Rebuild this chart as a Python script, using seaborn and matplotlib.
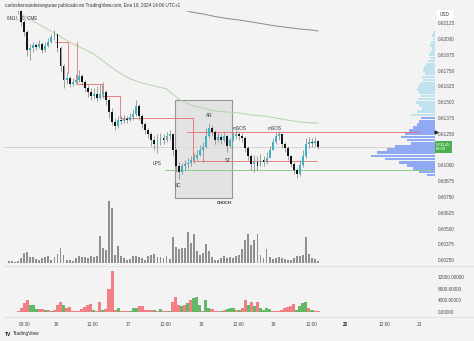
import numpy as np
import pandas as pd
import matplotlib
matplotlib.use("Agg")
import matplotlib.pyplot as plt
import matplotlib.transforms as mtransforms
from matplotlib.patches import Rectangle
from matplotlib.ticker import FormatStrFormatter
import seaborn as sns

sns.set_theme(style="white")
plt.rcParams['font.family'] = ['Liberation Sans', 'DejaVu Sans']

# ---- 6N1! hourly bars -------------------------------------------------------
first_open = 0.62300
closes = [0.62290, 0.62262, 0.62248, 0.62229, 0.62134, 0.62055, 0.61913, 0.61925, 0.61953, 0.61937,
          0.61961, 0.61913, 0.61945, 0.61976, 0.62016, 0.62040, 0.61929, 0.61787, 0.61676, 0.61691,
          0.61644, 0.61660, 0.61676, 0.61707, 0.61660, 0.61612, 0.61581, 0.61549, 0.61565, 0.61533,
          0.61565, 0.61581, 0.61518, 0.61423, 0.61343, 0.61312, 0.61359, 0.61351, 0.61367, 0.61359,
          0.61383, 0.61407, 0.61470, 0.61391, 0.61328, 0.61280, 0.61249, 0.61201, 0.61169, 0.61201,
          0.61217, 0.61201, 0.61233, 0.61249, 0.61122, 0.60995, 0.60948, 0.60995, 0.61011, 0.61019,
          0.61043, 0.61059, 0.61082, 0.61122, 0.61146, 0.61233, 0.61296, 0.61264, 0.61201, 0.61225,
          0.61201, 0.61233, 0.61154, 0.61201, 0.61233, 0.61249, 0.61233, 0.61217, 0.61138, 0.61075,
          0.61011, 0.61027, 0.60995, 0.61043, 0.61027, 0.61059, 0.61122, 0.61185, 0.61233, 0.61249,
          0.61169, 0.61138, 0.61075, 0.61011, 0.60964, 0.60932, 0.61003, 0.61075, 0.61169, 0.61185,
          0.61177, 0.61193, 0.61145]
highs = [0.62305, 0.62290, 0.62275, 0.62269, 0.62245, 0.62150, 0.62071, 0.61961, 0.61976, 0.61968,
         0.61992, 0.61976, 0.61976, 0.62008, 0.62040, 0.62071, 0.62024, 0.61945, 0.61802, 0.61739,
         0.61707, 0.61691, 0.61723, 0.61755, 0.61723, 0.61676, 0.61636, 0.61612, 0.61612, 0.61628,
         0.61644, 0.61660, 0.61597, 0.61533, 0.61454, 0.61375, 0.61391, 0.61391, 0.61399, 0.61391,
         0.61415, 0.61446, 0.61518, 0.61486, 0.61407, 0.61343, 0.61296, 0.61264, 0.61233, 0.61249,
         0.61256, 0.61249, 0.61264, 0.61280, 0.61249, 0.61138, 0.61027, 0.61019, 0.61043, 0.61059,
         0.61075, 0.61098, 0.61122, 0.61162, 0.61185, 0.61296, 0.61335, 0.61320, 0.61280, 0.61256,
         0.61249, 0.61264, 0.61241, 0.61217, 0.61264, 0.61280, 0.61264, 0.61256, 0.61233, 0.61154,
         0.61090, 0.61082, 0.61075, 0.61090, 0.61075, 0.61106, 0.61154, 0.61217, 0.61264, 0.61272,
         0.61249, 0.61185, 0.61154, 0.61082, 0.61027, 0.60980, 0.61043, 0.61122, 0.61217, 0.61225,
         0.61217, 0.61225, 0.61201]
lows = [0.62270, 0.62250, 0.62230, 0.62198, 0.62103, 0.62024, 0.61866, 0.61834, 0.61897, 0.61913,
        0.61929, 0.61889, 0.61897, 0.61937, 0.61968, 0.61992, 0.61897, 0.61739, 0.61612, 0.61644,
        0.61620, 0.61628, 0.61644, 0.61660, 0.61636, 0.61581, 0.61541, 0.61518, 0.61525, 0.61510,
        0.61525, 0.61533, 0.61478, 0.61375, 0.61320, 0.61280, 0.61296, 0.61328, 0.61335, 0.61335,
        0.61351, 0.61359, 0.61391, 0.61359, 0.61296, 0.61249, 0.61217, 0.61154, 0.61122, 0.61098,
        0.61162, 0.61169, 0.61185, 0.61201, 0.61075, 0.60948, 0.60892, 0.60932, 0.60964, 0.60980,
        0.60995, 0.61019, 0.61043, 0.61075, 0.61027, 0.61138, 0.61217, 0.61233, 0.61169, 0.61185,
        0.61169, 0.61185, 0.61106, 0.61138, 0.61193, 0.61209, 0.61201, 0.61185, 0.61106, 0.61043,
        0.60964, 0.60948, 0.60964, 0.60995, 0.60995, 0.61011, 0.61075, 0.61122, 0.61169, 0.61201,
        0.61138, 0.61106, 0.61043, 0.60987, 0.60932, 0.60900, 0.60916, 0.60987, 0.61059, 0.61138,
        0.61146, 0.61154, 0.61130]
volumes = [200, 200, 100, 200, 500, 1000, 1100, 600, 600, 400,
           300, 500, 600, 700, 300, 600, 900, 1500, 800, 300,
           300, 200, 500, 700, 600, 600, 500, 700, 600, 700,
           2700, 1500, 1300, 6200, 5500, 800, 1700, 700, 500, 300,
           400, 700, 700, 600, 500, 300, 700, 800, 900, 600,
           600, 500, 700, 400, 2600, 1600, 1400, 1500, 1500, 3100,
           2000, 2900, 1200, 800, 1000, 1900, 1200, 600, 300, 300,
           500, 700, 500, 600, 500, 700, 800, 1400, 2300, 2900,
           1800, 2300, 2900, 800, 500, 1400, 600, 400, 500, 600,
           500, 400, 300, 300, 500, 700, 700, 800, 2600, 900,
           500, 400, 200]
# buy/sell imbalance per bar (negative = sellers dominate)
delta = [-100, -100, -100, -200, -1500, -3000, -4000, 2300, 2300, 1000,
         -1000, -900, 700, -600, 500, -800, -2500, -3300, 2300, -1500,
         -1600, -300, -300, -500, -1000, -1800, -2300, -2800, 600, -500,
         -3300, 700, -1000, -8000, -14000, -800, 1200, -300, -200, -300,
         500, 1200, 1500, -1900, -2000, -800, -800, -800, 600, -500,
         1000, -400, -300, 500, -3300, -5200, -2500, 2000, -2500, 3000,
         -4000, 4800, 5000, 2500, -500, 4200, 1500, -1000, -200, -200,
         500, -700, 1000, 1200, 1500, -600, 800, -1500, -4000, 2500,
         -3500, 2000, -3500, 1500, 800, 1500, 1000, -300, -300, -400,
         -800, -1200, -1600, -2000, -2600, 800, 2200, 3000, 3500, -1200,
         600, -300, -200]

# moving averages (sampled bars)
ma_bars = [4, 8, 12, 16, 20, 24, 28, 32, 36, 40, 44, 48, 52, 56, 60, 64, 68, 72, 76, 80,
           84, 88, 92, 96, 100, 102]
ma_slow = [0.62198, 0.62142, 0.62087, 0.62032, 0.61976, 0.61929, 0.61881, 0.61810, 0.61739, 0.61684,
           0.61652, 0.61628, 0.61605, 0.61525, 0.61478, 0.61454, 0.61430, 0.61423, 0.61415, 0.61399,
           0.61391, 0.61375, 0.61359, 0.61344, 0.61336, 0.61336]
band_bars = [56, 58, 60, 64, 68, 72, 76, 80, 84, 88, 92, 96, 100, 102]
band_upper = [0.62261, 0.62229, 0.62214, 0.62198, 0.62178, 0.62162, 0.62150, 0.62135, 0.62119,
              0.62103, 0.62091, 0.62079, 0.62071, 0.62063]

# session volume profile
vp_top, vp_step = 0.62050, 0.00025
vp_volume = [200, 300, 200, 400, 500, 300, 400, 600, 500, 700,
             900, 1100, 1200, 1000, 1300, 1200, 1500, 1700, 1800, 1600,
             1400, 1700, 1900, 1600, 1300, 1800, 2400, 1400, 1600, 1800,
             2200, 2600, 3000, 3400, 2800, 2400, 4000, 4800, 5800, 6400,
             5000, 3600, 2800, 2200, 1600, 800]
value_area_high = 0.61375

# drawn levels: (price, first bar, last bar)
supply_steps = [(0.61976, 15.2, 19.5), (0.61644, 22.4, 30.7), (0.61549, 30.7, 36.6),
                (0.61375, 36.6, 60.7), (0.61035, 60.7, 101.7)]
resistance = (0.61268, 58.7, 135.0)
support = (0.60960, 51.5, 139.6)
range_box = (54.8, 73.6, 0.60742, 0.61518)
last_price = 0.61145

wyckoff_labels = [("AR", 66.0, 0.61391), ("mSOS", 76.2, 0.61296), ("mSOS", 87.8, 0.61296),
                  ("ST", 72.3, 0.61035), ("LPS", 48.8, 0.61019), ("SC", 55.8, 0.60845)]

time_ticks = [5.3, 15.5, 27.7, 39.3, 51.8, 63.4, 75.6, 87.1, 99.7, 111.2, 123.8, 135.3]
time_labels = ["09:30", "16", "12:00", "17", "12:00", "18", "12:00", "19", "12:00", "22", "12:00", "23"]
price_ticks = [0.60250, 0.60375, 0.60500, 0.60625, 0.60750, 0.60875, 0.61000, 0.61250, 0.61375,
               0.61500, 0.61625, 0.61750, 0.61875, 0.62000, 0.62125]
delta_ticks = [0, 4000, 8000, 12000]

# ---- layout ---------------------------------------------------------------
BG = '#f3f3f3'
UP, DOWN, WICK = '#3ab4c4', '#141414', '#7d7d7d'
W, H = 474, 341
fig = plt.figure(figsize=(W / 100, H / 100), dpi=100, facecolor=BG)


def rect(x0, y0, x1, y1):
    return [x0 / W, 1 - y1 / H, (x1 - x0) / W, (y1 - y0) / H]


XL = (-1.65, 140.6)
ax_vol = fig.add_axes(rect(4, 11, 435, 265))
ax = fig.add_axes(rect(4, 11, 435, 265))
ax_d = fig.add_axes(rect(4, 266, 435, 316))
ax_vol.set_zorder(0)
ax.set_zorder(1)
ax.patch.set_alpha(0)
ax_vol.set_facecolor(BG)
ax_d.set_facecolor(BG)
for a in (ax_vol, ax, ax_d):
    a.set_xlim(*XL)
    for s in a.spines.values():
        s.set_visible(False)

n = len(closes)
bars = np.arange(n)
opens = np.array([first_open] + closes[:-1])
closes_a = np.array(closes)
up = closes_a >= opens

# volume overlay
ax_vol.bar(bars, volumes, width=0.62, color='#8f8f8f', linewidth=0)
ax_vol.set_ylim(-200, 25200)
ax_vol.set_xticks([])
ax_vol.set_yticks([])

# price pane
ax.set_ylim(0.602123, 0.622215)
ax.axhline(last_price, color='#cfcfcf', lw=0.6, zorder=1)
ax.add_patch(Rectangle((range_box[0], range_box[2]), range_box[1] - range_box[0],
                       range_box[3] - range_box[2], facecolor='#dedede', alpha=0.75,
                       edgecolor='#777777', lw=0.8, zorder=1.5))
sns.lineplot(x=ma_bars, y=ma_slow, ax=ax, color='#b3d4ac', lw=0.7, zorder=2)
sns.lineplot(x=band_bars, y=band_upper, ax=ax, color='#8a8a8a', lw=0.7, zorder=2)

# volume profile on the right edge
vp_levels = vp_top - vp_step * np.arange(len(vp_volume))
vp_len = np.array(vp_volume) / max(vp_volume) * 21.1
vp_col = ['#8fa9f2' if p <= value_area_high else '#bfe3ee' for p in vp_levels]
ax.barh(vp_levels, vp_len, height=vp_step * 0.85, left=XL[1] - vp_len,
        color=vp_col, linewidth=0, zorder=1.8)

# level lines
prev = None
for p, b0, b1 in supply_steps:
    ax.plot([b0, b1], [p, p], color='#e36f6f', lw=0.6, zorder=2.2)
    if prev is not None:
        ax.plot([b0, b0], [prev, p], color='#e36f6f', lw=0.6, zorder=2.2)
    prev = p
ax.plot([supply_steps[0][2]] * 2, [supply_steps[0][0], 0.61730], color='#e36f6f', lw=0.6)
ax.plot([resistance[1], resistance[2]], [resistance[0]] * 2, color='#e36f6f', lw=0.6, zorder=2.2)
ax.plot([support[1], support[2]], [support[0]] * 2, color='#8cc98c', lw=0.7, zorder=2.2)

# candles
ax.vlines(bars, lows, highs, color=WICK, lw=0.5, zorder=3)
body_lo = np.minimum(opens, closes_a)
body_h = np.maximum(np.abs(closes_a - opens), 0.000012)
ax.bar(bars[up], body_h[up], bottom=body_lo[up], width=0.62, color=UP, linewidth=0, zorder=3.2)
ax.bar(bars[~up], body_h[~up], bottom=body_lo[~up], width=0.62, color=DOWN, linewidth=0, zorder=3.2)

for txt, b, p in wyckoff_labels:
    ax.text(b, p, txt, fontsize=3.4, color='#333333', ha='center', va='center', zorder=4)
ax.text(71.0, 0.60703, "CHOCH", fontsize=3.0, color='#333333', ha='center', va='center',
        fontweight='bold', zorder=4)

ax.set_xticks([])
ax.yaxis.tick_right()
ax.set_yticks(price_ticks)
ax.yaxis.set_major_formatter(FormatStrFormatter('%.5f'))
ax.tick_params(axis='y', length=0, pad=2.2, labelsize=3.4, labelcolor='#4d4d4d')

trans = mtransforms.blended_transform_factory(ax.transAxes, ax.transData)
ax.text(1.003, last_price, "0.61145\n03:09", transform=trans, fontsize=3.0, color='white',
        ha='left', va='center', linespacing=1.1, zorder=6, clip_on=False,
        bbox=dict(boxstyle='square,pad=0.35', fc='#4caf50', ec='none'))
ax.plot([1.003], [resistance[0]], transform=trans, marker='>', ms=2, color='#222222',
        clip_on=False, zorder=6)

# delta pane
d = np.array(delta)
d_col = np.where(d < 0, '#f27f84', '#63b867')
ax_d.bar(bars, np.abs(d), width=1.0, color=d_col, linewidth=0)
ax_d.set_ylim(-1370, 15753)
ax_d.yaxis.tick_right()
ax_d.set_yticks(delta_ticks)
ax_d.yaxis.set_major_formatter(FormatStrFormatter('%.5f'))
ax_d.tick_params(axis='y', length=0, pad=2.2, labelsize=3.4, labelcolor='#4d4d4d')
ax_d.set_xticks(time_ticks)
ax_d.set_xticklabels(time_labels)
ax_d.tick_params(axis='x', length=0, pad=4.5, labelsize=3.4, labelcolor='#4d4d4d')
for lbl in ax_d.get_xticklabels():
    if lbl.get_text() == "22":
        lbl.set_fontweight('bold')
        lbl.set_color('#222222')

# pane separators
fig.add_artist(plt.Line2D([4 / W, 1], [1 - 265.5 / H] * 2, color='#dddddd', lw=0.6))
fig.add_artist(plt.Line2D([4 / W, 1], [1 - 316.5 / H] * 2, color='#dddddd', lw=0.6))

# header, symbol and footer
fig.text(5 / W, 1 - 6 / H, "carloshernandezsegurae publicado en TradingView.com, Ene 19, 2024 14:06 UTC+1",
         fontsize=3.3, color='#333333', va='center', ha='left')
fig.text(7 / W, 1 - 18 / H, "6N1!, 30, CME", fontsize=3.3, color='#333333', va='center', ha='left')
fig.text(440 / W, 1 - 15 / H, "USD", fontsize=3.3, color='#333333', va='center', ha='left',
         bbox=dict(boxstyle='square,pad=0.6', fc='white', ec='none'))
fig.text(5 / W, 1 - 334 / H, "TV", fontsize=3.6, color='#111111', va='center', ha='left',
         fontweight='bold')
fig.text(13 / W, 1 - 334 / H, "TradingView", fontsize=3.4, color='#222222', va='center', ha='left')

fig.savefig("out.png", dpi=100, facecolor=BG)
